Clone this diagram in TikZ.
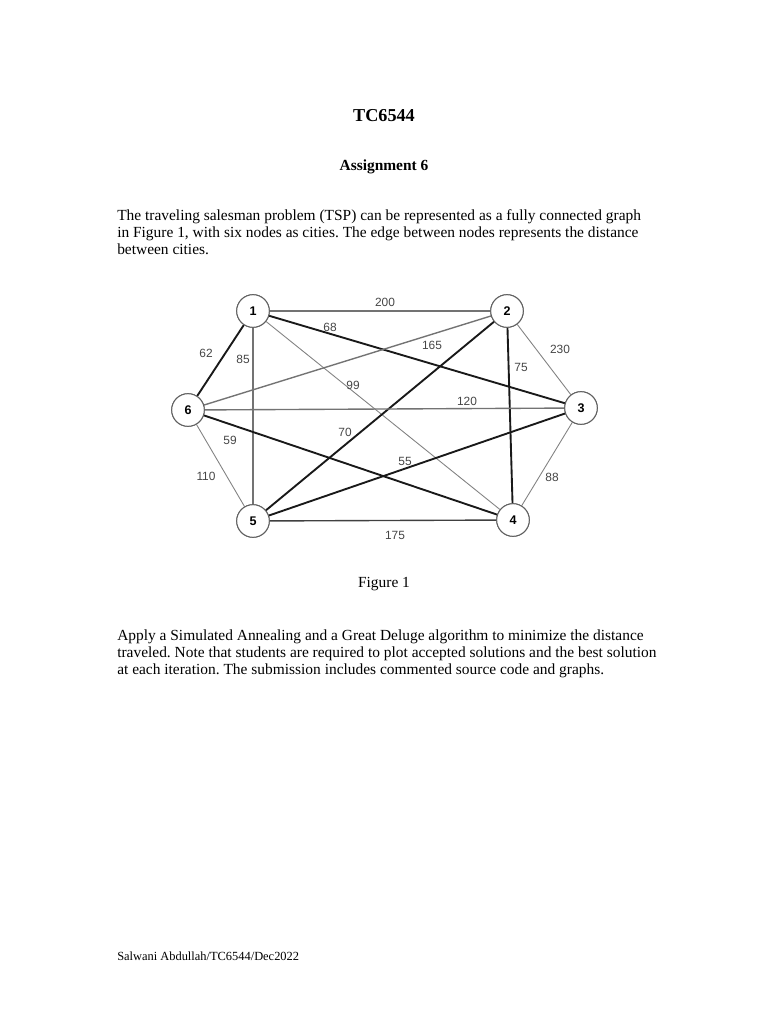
\documentclass[tikz,border=0pt]{standalone}
\usepackage{fontspec}
\setmainfont{Liberation Serif}
\newfontfamily\labfont{Liberation Sans}
\newfontfamily\footfont{Liberation Serif}
\frenchspacing
\definecolor{edgegray}{RGB}{115,115,115}
\definecolor{lightgray2}{RGB}{130,130,130}
\definecolor{labgray}{RGB}{70,70,70}
\definecolor{circgray}{RGB}{95,95,95}
\tikzset{
  city/.style={circle, draw=circgray, line width=0.8pt, fill=white, minimum size=26pt, inner sep=0pt, font=\labfont\bfseries\fontsize{10}{11}\selectfont},
  heavy/.style={draw=black!90, line width=1.5pt},
  medium/.style={draw=edgegray, line width=1.1pt},
  light/.style={draw=lightgray2, line width=0.7pt},
  wlab/.style={font=\labfont\fontsize{9.5}{10}\selectfont, text=labgray, inner sep=0pt},
  bodyline/.style={anchor=base west, inner sep=0pt, font=\fontsize{12.3}{14}\selectfont},
}
\begin{document}
\begin{tikzpicture}[x=0.796875pt,y=-0.796875pt]
\useasboundingbox (0,0) rectangle (768,1024);
\fill[white] (0,0) rectangle (768,1024);

% headings
\node[anchor=base, inner sep=0pt, font=\bfseries\fontsize{14.5}{16}\selectfont] (title) at (384,121) {TC6544};
\node[anchor=base, inner sep=0pt, font=\bfseries\fontsize{12.3}{14}\selectfont] (assign) at (384,170) {Assignment 6};

\node[bodyline] (p1) at (117,220) {The traveling salesman problem (TSP) can be represented as a fully connected graph};
\node[bodyline] (p2) at (117,237) {in Figure 1, with six nodes as cities. The edge between nodes represents the distance};
\node[bodyline] (p3) at (117,254) {between cities.};

% cities
\node[city] (n1) at (253,311) {1};
\node[city] (n2) at (507,311) {2};
\node[city] (n3) at (581,408) {3};
\node[city] (n4) at (513,520) {4};
\node[city] (n5) at (253,521) {5};
\node[city] (n6) at (188,410) {6};

% edges
\draw[medium, line width=1.4pt] (n1) -- (n2);
\draw[heavy] (n1) -- (n3);
\draw[light] (n1) -- (n4);
\draw[medium] (n1) -- (n5);
\draw[heavy] (n1) -- (n6);
\draw[light] (n2) -- (n3);
\draw[heavy] (n2) -- (n4);
\draw[heavy] (n2) -- (n5);
\draw[medium] (n2) -- (n6);
\draw[light] (n3) -- (n4);
\draw[heavy] (n3) -- (n5);
\draw[medium] (n3) -- (n6);
\draw[medium, draw=black!75] (n4) -- (n5);
\draw[heavy] (n4) -- (n6);
\draw[light] (n5) -- (n6);

% redraw cities on top
\node[city] at (n1) {1};
\node[city] at (n2) {2};
\node[city] at (n3) {3};
\node[city] at (n4) {4};
\node[city] at (n5) {5};
\node[city] at (n6) {6};

% weights
\node[wlab] (w12) at (385,302) {200};
\node[wlab] (w13) at (330,327) {68};
\node[wlab] (w26) at (432,345) {165};
\node[wlab] (w14) at (353,385) {99};
\node[wlab] (w15) at (243,359) {85};
\node[wlab] (w16) at (206,353) {62};
\node[wlab] (w23) at (560,349) {230};
\node[wlab] (w24) at (521,367) {75};
\node[wlab] (w36) at (467,401) {120};
\node[wlab] (w25) at (345,432) {70};
\node[wlab] (w46) at (230,440) {59};
\node[wlab] (w56) at (206,476) {110};
\node[wlab] (w35) at (405,461) {55};
\node[wlab] (w34) at (552,477) {88};
\node[wlab] (w45) at (395,535) {175};

\node[anchor=base, inner sep=0pt, font=\fontsize{12.3}{14}\selectfont] (fig) at (384,587) {Figure 1};

\node[bodyline] (q1) at (117,640) {Apply a Simulated Annealing and a Great Deluge algorithm to minimize the distance};
\node[bodyline] (q2) at (117,657) {traveled. Note that students are required to plot accepted solutions and the best solution};
\node[bodyline] (q3) at (117,674) {at each iteration. The submission includes commented source code and graphs.};

\node[anchor=base west, inner sep=0pt, font=\footfont\fontsize{9.9}{11}\selectfont] (foot) at (117,960) {Salwani Abdullah/TC6544/Dec2022};
\end{tikzpicture}
\end{document}
